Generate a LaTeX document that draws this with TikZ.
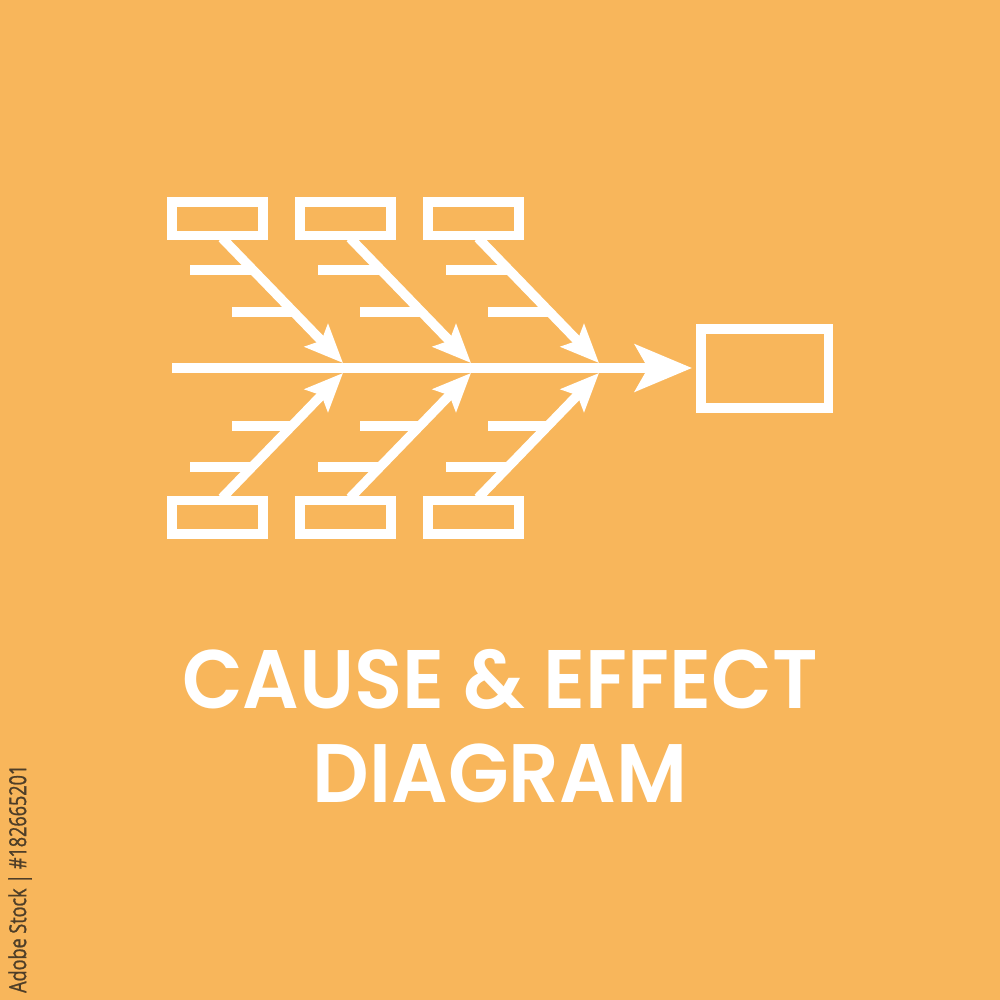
\documentclass[tikz,border=0pt]{standalone}
\usepackage{fontspec}
\usetikzlibrary{arrows.meta}
\newfontfamily\titlefont{Poppins}[UprightFont={* SemiBold}]
\newfontfamily\markfont{Open Sans}[FakeBold=1.2]
\definecolor{bgorange}{RGB}{248,182,91}
\definecolor{markgray}{RGB}{78,62,40}
\tikzset{
  wline/.style={draw=white, line width=9.5pt},
  cbox/.style={wline, rectangle, inner sep=0pt, minimum width=91pt, minimum height=33.5pt},
  effbox/.style={wline, rectangle, inner sep=0pt, minimum width=127.5pt, minimum height=79pt},
  smallhead/.style={-{Stealth[length=38pt,width=32pt,inset=7pt]}},
  bighead/.style={-{Stealth[length=57pt,width=47pt,inset=13pt]}},
  title/.style={text=white, font=\titlefont\fontsize{83}{90}\selectfont, anchor=base, inner sep=0pt},
}
\begin{document}
\begin{tikzpicture}[x=1pt,y=-1pt]
\fill[bgorange] (0,0) rectangle (1000,1000);
\useasboundingbox (0,0) rectangle (1000,1000);
% effect box and spine
\node[effbox] (eff) at (764.75,368.5) {};
\coordinate (m0) at (172,368);
\coordinate (mtip) at (692,368);
\draw[wline, bighead] (m0) -- (mtip);
% bones
\foreach \i/\d in {1/0,2/128,3/256}{
  \node[cbox] (bt\i) at ({217.5+\d},218.75) {};
  \node[cbox] (bb\i) at ({217.5+\d},517.25) {};
  \coordinate (tt\i) at ({343+\d},363);
  \coordinate (tb\i) at ({343+\d},373);
  \coordinate (st\i) at ({222+\d},238);
  \coordinate (sb\i) at ({222+\d},498);
  \draw[wline, smallhead] (st\i) -- (tt\i);
  \draw[wline, smallhead] (sb\i) -- (tb\i);
  % upper sub-branches
  \coordinate (ua\i) at ({190+\d},270);
  \coordinate (ub\i) at ({253+\d},270);
  \coordinate (uc\i) at ({232+\d},312);
  \coordinate (ud\i) at ({294+\d},312);
  \draw[wline] (ua\i) -- (ub\i);
  \draw[wline] (uc\i) -- (ud\i);
  % lower sub-branches
  \coordinate (la\i) at ({190+\d},467);
  \coordinate (lb\i) at ({252+\d},467);
  \coordinate (lc\i) at ({232+\d},426);
  \coordinate (ld\i) at ({292+\d},426);
  \draw[wline] (la\i) -- (lb\i);
  \draw[wline] (lc\i) -- (ld\i);
}
% title
\node[title] (t1) at (500,708) {\scalebox{0.952}[1]{CAUSE \& EFFECT}};
\node[title] (t2) at (500,802) {\scalebox{0.952}[1]{DIAGRAM}};
% side mark
\node[rotate=90, anchor=south west, inner sep=0pt, text=markgray] (mark) at (32,993)
  {\scalebox{1}[1.3]{\resizebox{228pt}{!}{\markfont Adobe Stock | \#182665201}}};
\end{tikzpicture}
\end{document}
